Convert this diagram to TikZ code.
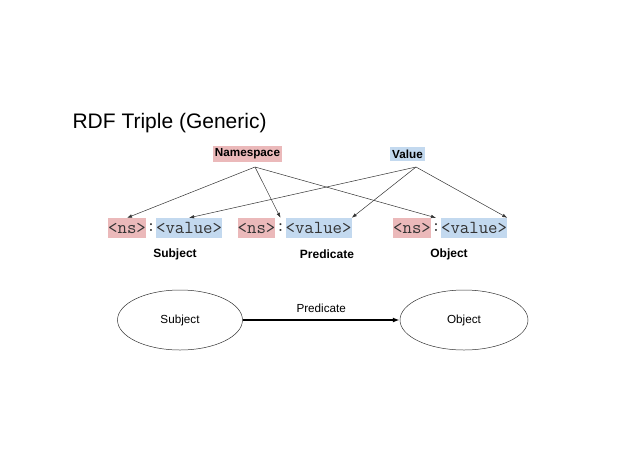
\documentclass[tikz,border=0pt]{standalone}
\usepackage{fontspec}
\setmainfont{Liberation Sans}
\usepackage{tikz}
\usetikzlibrary{arrows.meta,calc,positioning,shapes.geometric}
\definecolor{NsPink}{HTML}{EBB9BA}
\definecolor{ValBlue}{HTML}{C3D9EF}
\definecolor{LineGray}{HTML}{333333}

\begin{document}
\begin{tikzpicture}[x=1pt,y=-1pt,node distance=0pt,
    tag/.style={inner xsep=2pt,inner ysep=2.5pt,font=\fontsize{11.7}{13}\selectfont\bfseries},
    code/.style={inner xsep=0pt,inner ysep=0pt,minimum height=20pt,text=LineGray,
                 font=\fontsize{18.3}{20}\selectfont\ttfamily},
    role/.style={font=\fontsize{12}{14}\selectfont\bfseries},
    blob/.style={ellipse,draw=LineGray,line width=.5pt,minimum width=125pt,minimum height=60pt,
                 font=\fontsize{11.7}{14}\selectfont},
    link/.style={-{Latex[length=5pt,width=3.5pt]},line width=.5pt,LineGray},
    rel/.style={-{Latex[length=7pt,width=5pt]},line width=2pt,black}]
    \useasboundingbox (0,0) rectangle (638,451);
    \node[anchor=base west,font=\fontsize{21}{24}\selectfont] (title) at (69,128) {RDF Triple (Generic)};
    \node[tag,fill=NsPink] (ns) at (247.5,154) {Namespace};
    \node[tag,fill=ValBlue] (val) at (407.5,154) {Value};
    \coordinate (nsfork) at (255,167);
    \coordinate (valfork) at (416,167);
    % subject
    \node[code,fill=NsPink,anchor=west] (ns1) at (108,228) {<ns>};
    \node[code,right=of ns1] (c1) {:};
    \node[code,fill=ValBlue,right=of c1] (v1) {<value>};
    % predicate
    \node[code,fill=NsPink,anchor=west] (ns2) at (237.5,228) {<ns>};
    \node[code,right=of ns2] (c2) {:};
    \node[code,fill=ValBlue,right=of c2] (v2) {<value>};
    % object
    \node[code,fill=NsPink,anchor=west] (ns3) at (393,228) {<ns>};
    \node[code,right=of ns3] (c3) {:};
    \node[code,fill=ValBlue,right=of c3] (v3) {<value>};
    \node[role] (lsub) at (175,254) {Subject};
    \node[role] (lpred) at (327,254) {Predicate};
    \node[role] (lobj) at (449,254) {Object};
    \draw[link] (nsfork) -- (ns1.north);
    \draw[link] (nsfork) -- (c2.north);
    \draw[link] (nsfork) -- (c3.north);
    \draw[link] (valfork) -- (v1.north);
    \draw[link] (valfork) -- (v2.north east);
    \draw[link] (valfork) -- (v3.north east);
    % graph form
    \node[blob] (sub) at (180,320) {Subject};
    \node[blob,minimum width=128pt] (obj) at (464,320) {Object};
    \draw[rel] (sub) -- node[above=3pt,font=\fontsize{11.7}{14}\selectfont] (pred) {Predicate} (obj);
  \end{tikzpicture}
\end{document}
